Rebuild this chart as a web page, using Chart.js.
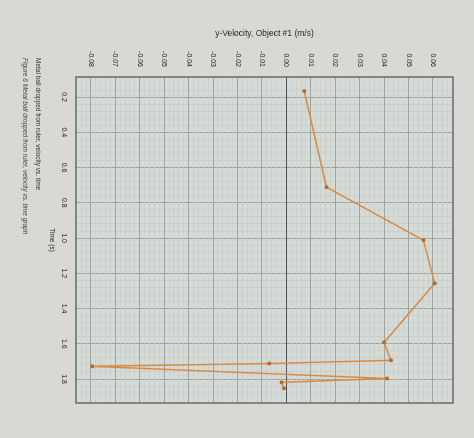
<!DOCTYPE html>
<html><head><meta charset="utf-8">
<script src="https://cdn.jsdelivr.net/npm/chart.js@4.4.1/dist/chart.umd.min.js"></script>
<style>
html,body{margin:0;padding:0;width:474px;height:438px;overflow:hidden;background:#d8d9d4;}
#rot{position:absolute;left:0;top:0;width:438px;height:474px;transform-origin:0 0;transform:translateX(474px) rotate(90deg);}
#c{position:absolute;left:0;top:0;}
.cap{position:absolute;left:58px;white-space:nowrap;font-family:"Liberation Sans",Arial,sans-serif;font-size:6.5px;color:#333;line-height:1;}
</style></head><body>
<div id="rot">
<canvas id="c" width="438" height="474"></canvas>
<div class="cap" style="top:433px">Metal ball dropped from ruler, velocity vs. time</div>
<div class="cap" style="top:446px;font-style:italic;color:#444">Figure 6 Metal ball dropped from ruler, velocity vs. time graph</div>
</div>
<script>
// Data
const timeS = [0.166, 0.711, 1.012, 1.257, 1.592, 1.694, 1.712, 1.728, 1.797, 1.819, 1.853];
const velocity = [0.0073, 0.0164, 0.0561, 0.0607, 0.0400, 0.0428, -0.0070, -0.0795, 0.0412, -0.0020, -0.0010];
const xTitle = 'Time (s)';
const yTitle = 'y-Velocity, Object #1 (m/s)';
const xMajor = 0.2, xMinor = 0.04;
const yMajor = 0.01, yMinor = 0.002;

const isMult = (v, step) => Math.abs(v / step - Math.round(v / step)) < 1e-6;
const gridColor = (step) => (ctx) => {
  const v = ctx.tick ? ctx.tick.value : 0;
  if (Math.abs(v) < 1e-9 && step === yMajor) return '#4b5157';
  return isMult(v, step) ? '#9ea4a0' : '#cad0cb';
};

const plotFrame = {
  id: 'plotFrame',
  beforeDraw(chart) {
    const {ctx, chartArea: a} = chart;
    ctx.save();
    ctx.fillStyle = '#d5dbd6';
    ctx.fillRect(a.left, a.top, a.right - a.left, a.bottom - a.top);
    ctx.restore();
  },
  afterDraw(chart) {
    const {ctx, chartArea: a} = chart;
    ctx.save();
    ctx.strokeStyle = '#676c70';
    ctx.lineWidth = 1.5;
    ctx.strokeRect(a.left, a.top, a.right - a.left, a.bottom - a.top);
    ctx.restore();
  }
};

const font = {family: '"Liberation Sans", Arial, sans-serif'};

new Chart(document.getElementById('c'), {
  type: 'scatter',
  data: {
    datasets: [{
      data: timeS.map((t, i) => ({x: t, y: velocity[i]})),
      showLine: true,
      borderColor: '#d98b45',
      borderWidth: 1.5,
      pointRadius: 2,
      pointBackgroundColor: '#b8692a',
      pointBorderColor: '#b8692a',
      pointBorderWidth: 0
    }]
  },
  options: {
    responsive: false,
    animation: false,
    devicePixelRatio: 1,
    layout: {padding: {left: 0, top: 21, right: 35, bottom: 0}},
    plugins: {legend: {display: false}, tooltip: {enabled: false}},
    scales: {
      x: {
        type: 'linear', min: 0.086, max: 1.936,
        afterFit: s => { s.height = 76; },
        border: {display: false},
        grid: {color: gridColor(xMajor), drawTicks: false, lineWidth: 1},
        ticks: {
          stepSize: xMinor, autoSkip: false, maxRotation: 0, minRotation: 0, padding: 8,
          color: '#222', font: {...font, size: 7},
          callback: v => isMult(v, xMajor) ? v.toFixed(1) : ''
        },
        title: {display: true, text: xTitle, color: '#2a2a2a', font: {...font, size: 6.5}, padding: {top: 0, bottom: 48}}
      },
      y: {
        type: 'linear', min: -0.0861, max: 0.0682,
        afterFit: s => { s.width = 77; },
        border: {display: false},
        grid: {color: gridColor(yMajor), drawTicks: false, lineWidth: 1},
        ticks: {
          stepSize: yMinor, autoSkip: false, padding: 10,
          color: '#222', font: {...font, size: 7},
          callback: v => isMult(v, yMajor) ? v.toFixed(2) : ''
        },
        title: {display: true, text: yTitle, color: '#2a2a2a', font: {...font, size: 8.5}, padding: {top: 29, bottom: 0}}
      }
    }
  },
  plugins: [plotFrame]
});
</script>
</body></html>
